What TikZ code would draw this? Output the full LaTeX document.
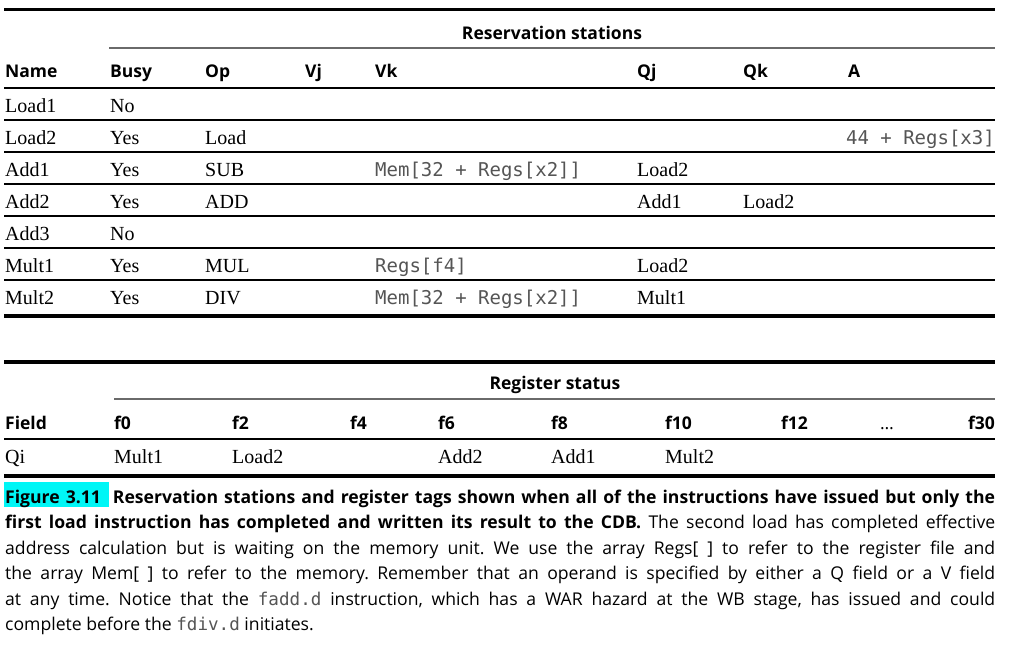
\documentclass[tikz,border=0pt]{standalone}
\usepackage{fontspec}
\setmainfont{Liberation Serif}
\newfontfamily\capsans{Open Sans}
\newfontfamily\codefont{DejaVu Sans Mono}
\definecolor{codegray}{HTML}{555555}
\definecolor{rulegray}{HTML}{6A6A6A}
\definecolor{hilite}{HTML}{00F6F6}
\newcommand{\cc}[1]{{\codefont\color{codegray}#1}}
\frenchspacing
\begin{document}
\begin{tikzpicture}[x=1pt,y=-1pt,
  hd/.style={anchor=base west, inner sep=0pt, font=\capsans\bfseries\fontsize{17.5}{20}\selectfont},
  cell/.style={anchor=base west, inner sep=0pt, font=\fontsize{20}{24}\selectfont},
  mono/.style={anchor=base west, inner sep=0pt, font=\codefont\fontsize{19}{22}\selectfont, text=codegray},
  caplin/.style={anchor=base west, inner sep=0pt, font=\capsans\fontsize{17.6}{25}\selectfont},
  heavyrule/.style={line width=3.5pt, black},
  toprule/.style={line width=3pt, black},
  midrule/.style={line width=2pt, black},
  thinrule/.style={line width=1.5pt, rulegray}]
\useasboundingbox (0,0) rectangle (1024,664);

% ---------- Reservation stations ----------
\draw[toprule] (4,9) -- (995,9);
\node[hd, anchor=base] (rstitle) at (552,39) {Reservation stations};
\draw[thinrule] (109,48) -- (995,48);
\node[hd] (hName) at (5,77) {Name};
\node[hd] (hBusy) at (110,77) {Busy};
\node[hd] (hOp) at (205,77) {Op};
\node[hd] (hVj) at (305,77) {Vj};
\node[hd] (hVk) at (375,77) {Vk};
\node[hd] (hQj) at (637,77) {Qj};
\node[hd] (hQk) at (743,77) {Qk};
\node[hd] (hA) at (848,77) {A};
\draw[midrule] (4,88) -- (995,88);
\foreach \yy in {120,152,184,216,248,280} \draw[midrule] (4,\yy) -- (995,\yy);
\draw[heavyrule] (4,316) -- (995,316);

\node[cell] (n1) at (5,112) {Load1};
\node[cell] (b1) at (110,112) {No};

\node[cell] (n2) at (5,144) {Load2};
\node[cell] (b2) at (110,144) {Yes};
\node[cell] (o2) at (205,144) {Load};
\node[mono, anchor=base east] (a2) at (995,144) {44 + Regs[x3]};

\node[cell] (n3) at (5,176) {Add1};
\node[cell] (b3) at (110,176) {Yes};
\node[cell] (o3) at (205,176) {SUB};
\node[mono] (vk3) at (375,176) {Mem[32 + Regs[x2]]};
\node[cell] (qj3) at (637,176) {Load2};

\node[cell] (n4) at (5,208) {Add2};
\node[cell] (b4) at (110,208) {Yes};
\node[cell] (o4) at (205,208) {ADD};
\node[cell] (qj4) at (637,208) {Add1};
\node[cell] (qk4) at (743,208) {Load2};

\node[cell] (n5) at (5,240) {Add3};
\node[cell] (b5) at (110,240) {No};

\node[cell] (n6) at (5,272) {Mult1};
\node[cell] (b6) at (110,272) {Yes};
\node[cell] (o6) at (205,272) {MUL};
\node[mono] (vk6) at (375,272) {Regs[f4]};
\node[cell] (qj6) at (637,272) {Load2};

\node[cell] (n7) at (5,304) {Mult2};
\node[cell] (b7) at (110,304) {Yes};
\node[cell] (o7) at (205,304) {DIV};
\node[mono] (vk7) at (375,304) {Mem[32 + Regs[x2]]};
\node[cell] (qj7) at (637,304) {Mult1};

% ---------- Register status ----------
\draw[heavyrule] (4,362) -- (995,362);
\node[hd, anchor=base] (rgtitle) at (555,389) {Register status};
\draw[thinrule] (114,399) -- (995,399);
\node[hd] (fField) at (5,429) {Field};
\node[hd] (f0) at (114,429) {f0};
\node[hd] (f2) at (232,429) {f2};
\node[hd] (f4) at (350,429) {f4};
\node[hd] (f6) at (438,429) {f6};
\node[hd] (f8) at (551,429) {f8};
\node[hd] (f10) at (665,429) {f10};
\node[hd] (f12) at (781,429) {f12};
\node[hd, font=\capsans\fontsize{17.5}{20}\selectfont] (fdots) at (880,429) {\dots};
\node[hd, anchor=base east] (f30) at (995,429) {f30};
\draw[midrule] (4,439) -- (995,439);
\node[cell] (qi) at (5,463) {Qi};
\node[cell] (q0) at (114,463) {Mult1};
\node[cell] (q2) at (232,463) {Load2};
\node[cell] (q6) at (438,463) {Add2};
\node[cell] (q8) at (551,463) {Add1};
\node[cell] (q10) at (665,463) {Mult2};
\draw[heavyrule] (4,476) -- (995,476);

% ---------- Caption ----------
\fill[hilite] (4,482) rectangle (109,507);
\node[caplin] (c1) at (5,503) {\makebox[990pt][s]{\bfseries Figure 3.11\ \ Reservation stations and register tags shown when all of the instructions have issued but only the}};
\node[caplin] (c2) at (5,528.5) {\makebox[990pt][s]{\bfseries first load instruction has completed and written its result to the CDB.\mdseries{} The second load has completed effective}};
\node[caplin] (c3) at (5,554) {\makebox[990pt][s]{address calculation but is waiting on the memory unit. We use the array Regs[ ] to refer to the register file and}};
\node[caplin] (c4) at (5,579.5) {\makebox[990pt][s]{the array Mem[ ] to refer to the memory. Remember that an operand is specified by either a Q field or a V field}};
\node[caplin] (c5) at (5,605) {\makebox[990pt][s]{at any time. Notice that the \cc{fadd.d} instruction, which has a WAR hazard at the WB stage, has issued and could}};
\node[caplin] (c6) at (5,630.5) {complete before the \cc{fdiv.d} initiates.};
\end{tikzpicture}
\end{document}
